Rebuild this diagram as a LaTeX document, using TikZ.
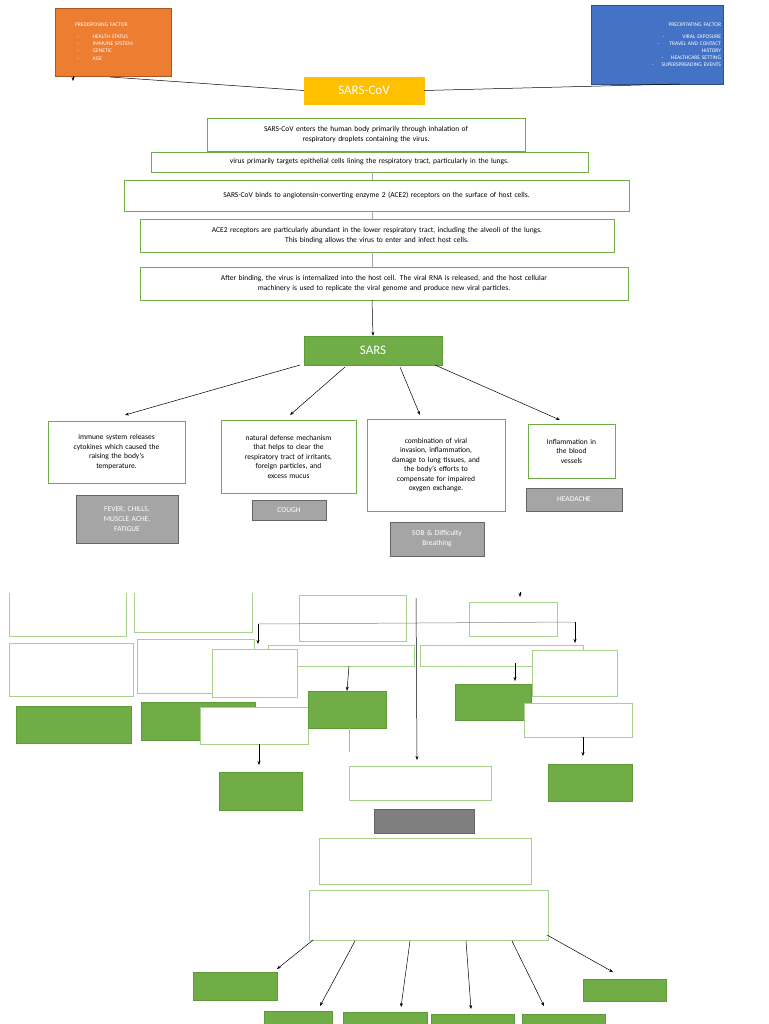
\documentclass[tikz,border=0pt]{standalone}
\usepackage{fontspec}
\setmainfont{Carlito}
\usetikzlibrary{arrows.meta}
\definecolor{gr}{HTML}{70AD47}
\definecolor{grd}{HTML}{5E9A3A}
\definecolor{grl}{HTML}{A9D18E}
\definecolor{orn}{HTML}{ED7D31}
\definecolor{blu}{HTML}{4472C4}
\definecolor{yel}{HTML}{FFC000}
\definecolor{gry}{HTML}{A5A5A5}
\definecolor{dgry}{HTML}{7F7F7F}
\tikzset{
 txt/.style={draw=gr,fill=white,font=\fontsize{7.5}{9.5}\selectfont,align=center},
 wb/.style={draw=grl,fill=white,line width=0.9pt},
 gb/.style={draw=grd,fill=gr},
 gy/.style={draw=dgry!80!black,fill=gry,text=white,font=\fontsize{7.5}{10}\selectfont,align=center},
 ar/.style={-{Stealth[length=4pt,width=3pt]},line width=0.5pt},
 ln/.style={line width=0.5pt}
}
\newcommand\bx[7]{\node[#6,inner sep=1pt,minimum width={(#4-#2)*1pt},minimum height={(#5-#3)*1pt},text width={(#4-#2-4)*1pt},anchor=center] (#1) at ({(#2+#4)/2*1pt},{-(#3+#5)/2*1pt}) {#7};}
\begin{document}
\begin{tikzpicture}[x=1pt,y=1pt]
\useasboundingbox (0,0) rectangle (768,-1024);
% top
\bx{pre}{55}{8}{171}{76}{fill=orn,draw=orn!70!black,text=white,font=\fontsize{5.5}{7}\selectfont,align=left}{\hspace*{18pt}PREDISPOSING FACTOR\\[5pt]
\hspace*{20pt}-\hspace{14pt}HEALTH STATUS\\ \hspace*{20pt}-\hspace{14pt}IMMUNE SYSTEM\\ \hspace*{20pt}-\hspace{14pt}GENETIC\\[1pt] \hspace*{20pt}-\hspace{14pt}AGE\\[4pt]}
\bx{prc}{591}{5}{723}{84}{fill=blu,draw=blu!70!black,text=white,font=\fontsize{5.5}{7}\selectfont,align=right}{PRECIPITATING FACTOR\\[5pt]
-\hspace{18pt}VIRAL EXPOSURE\\ -\hspace{10pt}TRAVEL AND CONTACT\\ HISTORY\\ -\hspace{8pt}HEALTHCARE SETTING\\ -\hspace{8pt}SUPERSPREADING EVENTS}
\bx{cov}{304}{77}{424}{104}{fill=yel,draw=yel,text=white,font=\fontsize{13}{15}\selectfont,align=center}{SARS-CoV}
\coordinate (pa) at (73,-76); \coordinate (pb) at (73,-81);
\draw[ar] (pa)--(pb);
\draw[ln] (110,-77) -- (cov.west);
\draw[ln] (cov.east) -- (680,-84);
\bx{t1}{207}{118}{525}{151}{txt}{SARS-CoV enters the human body primarily through inhalation of\\ respiratory droplets containing the virus.}
\bx{t2}{151}{152}{588}{172}{txt}{virus primarily targets epithelial cells lining the respiratory tract, particularly in the lungs.}
\bx{t3}{124}{180}{629}{211}{txt}{SARS-CoV binds to angiotensin-converting enzyme 2 (ACE2) receptors on the surface of host cells.}
\bx{t4}{140}{219}{614}{252}{txt}{ACE2 receptors are particularly abundant in the lower respiratory tract, including the alveoli of the lungs.\\ This binding allows the virus to enter and infect host cells.}
\bx{t5}{140}{267}{628}{300}{txt}{After binding, the virus is internalized into the host cell. The viral RNA is released, and the host cellular\\ machinery is used to replicate the viral genome and produce new viral particles.}
\draw[ln,draw=gry] (372,-172)--(372,-180) (372,-211)--(372,-219) (372,-252)--(372,-267);
\bx{sars}{304}{336}{442}{365}{gb,text=white,font=\fontsize{13}{15}\selectfont,align=center}{SARS}
\draw[ar] (372,-300)--(sars.north);
\bx{a}{48}{421}{185}{483}{txt}{immune system releases\\ cytokines which caused the\\ raising the body's\\ temperature.}
\bx{b}{221}{420}{356}{493}{txt}{natural defense mechanism\\ that helps to clear the\\ respiratory tract of irritants,\\ foreign particles, and\\ excess mucus}
\bx{c}{367}{419}{505}{511}{txt}{combination of viral\\ invasion, inflammation,\\ damage to lung tissues, and\\ the body's efforts to\\ compensate for impaired\\ oxygen exchange.}
\bx{d}{528}{424}{615}{478}{txt}{Inflammation in\\ the blood\\ vessels}
\draw[ar] (300,-365)--(125,-415);
\draw[ar] (345,-367)--(290,-415);
\draw[ar] (400,-367)--(420,-415);
\draw[ar] (435,-365)--(560,-420);
\bx{g1}{76}{495}{178}{543}{gy}{FEVER, CHILLS,\\ MUSCLE ACHE,\\ FATIGUE}
\bx{g2}{252}{500}{326}{520}{gy}{COUGH}
\bx{g3}{390}{522}{484}{556}{gy}{SOB \& Difficulty\\ Breathing}
\bx{g4}{526}{488}{622}{511}{gy}{HEADACHE}
% lower part
\draw[grl,line width=0.9pt] (9,-593)--(9,-636)--(126,-636)--(126,-593);
\draw[grl,line width=0.9pt] (134,-593)--(134,-632)--(252,-632)--(252,-593);
\bx{w3}{299}{595}{406}{641}{wb}{}
\bx{w4}{469}{602}{557}{636}{wb}{}
\draw[ar] (520,-592)--(520,-597);
\draw[ln,draw=gray] (258,-624)--(575,-622);
\draw[ar] (258,-624)--(258,-644);
\draw[ar] (575,-622)--(575,-643);
\bx{w5}{9}{643}{133}{696}{wb}{}
\bx{w6}{137}{639}{254}{693}{wb}{}
\bx{w8}{268}{645}{414}{666}{wb}{}
\bx{w9}{420}{645}{583}{666}{wb}{}
\bx{w7}{212}{649}{297}{697}{wb}{}
\bx{gg1}{16}{706}{131}{743}{gb}{}
\bx{gg2}{141}{702}{255}{740}{gb}{}
\bx{w11}{200}{707}{308}{744}{wb}{}
\bx{gg3}{308}{691}{386}{728}{gb}{}
\bx{gg4}{455}{684}{531}{720}{gb}{}
\bx{w10}{532}{650}{617}{696}{wb}{}
\bx{w12}{524}{703}{632}{737}{wb}{}
\draw[ar] (349,-666)--(gg3.north);
\draw[ar] (515,-663)--(515,-681);
\draw[ln,draw=gray!60] (349,-728)--(349,-752);
\coordinate (vt) at (416,-598);
\draw[ar] (vt)--(417,-760);
\bx{gg5}{219}{772}{302}{810}{gb}{}
\bx{w13}{349}{766}{491}{800}{wb}{}
\bx{gg6}{548}{764}{632}{801}{gb}{}
\draw[ar] (259,-744)--(259,-765);
\draw[ar] (583,-737)--(583,-756);
\bx{dg}{374}{809}{474}{833}{fill=dgry,draw=dgry!80!black}{}
\bx{w14}{319}{838}{531}{884}{wb}{}
\bx{w15}{309}{890}{548}{940}{wb}{}
\bx{b1}{193}{972}{277}{1000}{gb}{}
\bx{b2}{264}{1011}{332}{1030}{gb}{}
\bx{b3}{343}{1012}{427}{1030}{gb}{}
\bx{b4}{431}{1014}{514}{1030}{gb}{}
\bx{b5}{522}{1014}{605}{1030}{gb}{}
\bx{b6}{583}{979}{666}{1001}{gb}{}
\draw[ar] (313,-940)--(277,-969);
\draw[ar] (355,-941)--(320,-1006);
\draw[ar] (410,-941)--(401,-1007);
\draw[ar] (466,-941)--(471,-1009);
\draw[ar] (512,-941)--(544,-1006);
\draw[ar] (547,-935)--(613,-972);
\end{tikzpicture}
\end{document}
